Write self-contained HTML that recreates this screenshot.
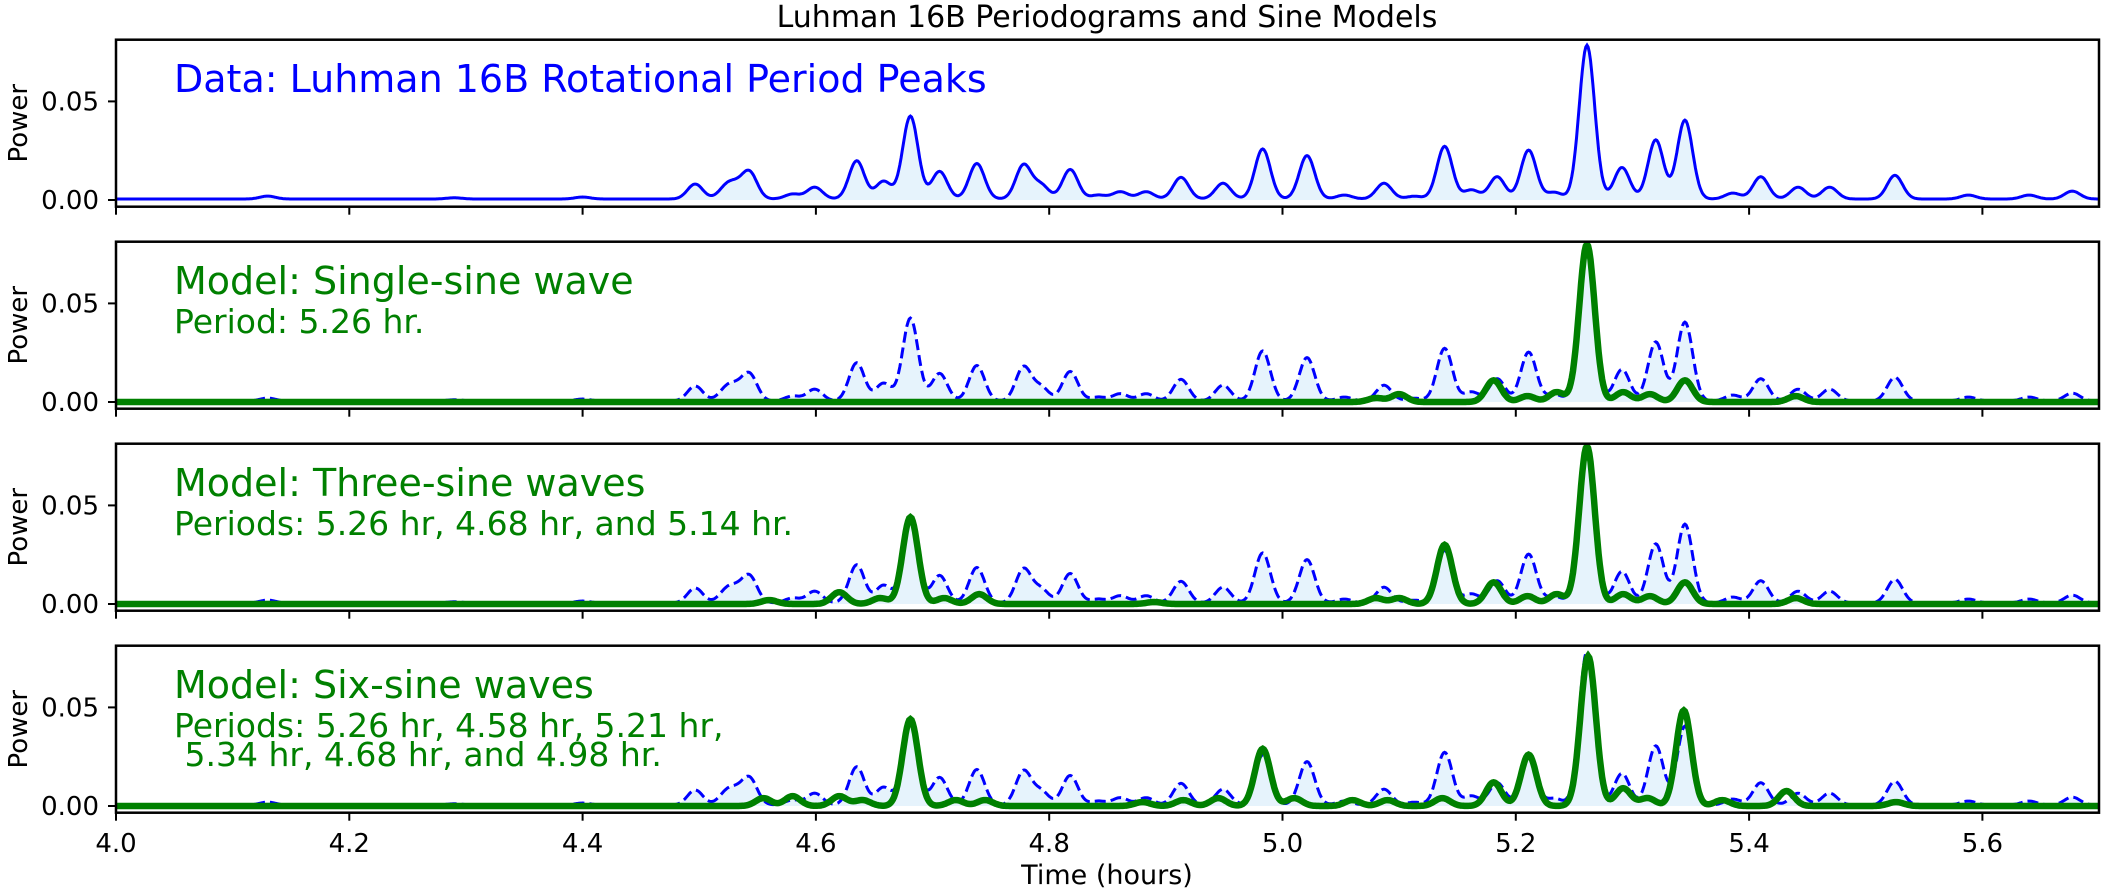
<!DOCTYPE html>
<html><head><meta charset="utf-8"><style>
html,body{margin:0;padding:0;background:#fff}
svg{display:block}
text{font-family:"DejaVu Sans","Liberation Sans",sans-serif}
</style></head><body>
<svg id="s" width="2101" height="892" xmlns="http://www.w3.org/2000/svg">
<defs>
<clipPath id="c0"><rect x="116" y="39.7" width="1983" height="167"/></clipPath>
<clipPath id="c1"><rect x="116" y="241.7" width="1983" height="167"/></clipPath>
<clipPath id="c2"><rect x="116" y="443.7" width="1983" height="167"/></clipPath>
<clipPath id="c3"><rect x="116" y="645.7" width="1983" height="167"/></clipPath>
</defs>
<text x="1107" y="27" font-size="30" text-anchor="middle">Luhman 16B Periodograms and Sine Models</text>
<g id="plots"></g>
<text x="174" y="92" font-size="38" fill="#0000ff">Data: Luhman 16B Rotational Period Peaks</text>
<text x="174" y="294" font-size="38" fill="#008000">Model: Single-sine wave</text>
<text x="174" y="333" font-size="33" fill="#008000">Period: 5.26 hr.</text>
<text x="174" y="496" font-size="38" fill="#008000">Model: Three-sine waves</text>
<text x="174" y="535" font-size="33" fill="#008000">Periods: 5.26 hr, 4.68 hr, and 5.14 hr.</text>
<text x="174" y="698" font-size="38" fill="#008000">Model: Six-sine waves</text>
<text x="174" y="737" font-size="33" fill="#008000">Periods: 5.26 hr, 4.58 hr, 5.21 hr,</text>
<text x="174" y="766" font-size="33" fill="#008000" xml:space="preserve"> 5.34 hr, 4.68 hr, and 4.98 hr.</text>
<text x="1107" y="884" font-size="27" text-anchor="middle">Time (hours)</text>
</svg>
<script>
var data=[[4.13,.0015],[4.29,.0006],[4.40,.001],[4.4965,.0076],[4.523,.0055],[4.531,.005],[4.543,.0135],[4.58,.0025],[4.599,.006],[4.635,.0194],[4.658,.009],[4.681,.042],[4.706,.014],[4.738,.018],[4.778,.0172],[4.793,.007],[4.818,.015],[4.842,.002],[4.861,.0037],[4.883,.0037],[4.913,.011],[4.949,.008],[4.983,.0254],[5.021,.022],[5.053,.002],[5.087,.008],[5.113,.0014],[5.139,.0267],[5.162,.0046],[5.184,.0113],[5.211,.0248],[5.233,.0034],[5.261,.078],[5.291,.016],[5.320,.030],[5.345,.040],[5.386,.003],[5.41,.0113],[5.442,.006],[5.469,.006],[5.525,.012],[5.588,.002],[5.64,.002],[5.677,.004]];
var m1=[[5.08,.002],[5.10,.004],[5.181,.011],[5.21,.003],[5.235,.005],[5.261,.080],[5.292,.005],[5.315,.004],[5.345,.011],[5.44,.003]];
var m3=[[4.56,.002],[4.62,.006],[4.655,.003],[4.681,.044],[4.71,.003],[4.74,.005],[4.89,.001],[5.08,.003],[5.10,.003],[5.139,.030],[5.181,.011],[5.21,.004],[5.235,.005],[5.261,.080],[5.292,.005],[5.315,.004],[5.345,.011],[5.44,.003]];
var m6=[[4.555,.004],[4.58,.005],[4.62,.005],[4.64,.003],[4.681,.044],[4.72,.003],[4.745,.003],[4.88,.002],[4.915,.003],[4.945,.004],[4.983,.029],[5.01,.004],[5.06,.003],[5.09,.003],[5.137,.004],[5.181,.012],[5.211,.026],[5.262,.076],[5.292,.009],[5.313,.004],[5.344,.0485],[5.377,.003],[5.432,.0076],[5.526,.002]];
function f(pk,h,base){var v=base;for(var i=0;i<pk.length;i++){var d=(h-pk[i][0])/0.0066;v+=pk[i][1]*Math.exp(-0.5*d*d);}return v;}
function X(h){return 116+(h-4)*1166.5;}
var tops=[39.7,241.7,443.7,645.7];
function path(pk,top,base){var s="";for(var h=3.995;h<=5.705;h+=0.001){var x=X(h),y=top+160.3-f(pk,h,base)*1972;s+=(s?"L":"M")+x.toFixed(1)+" "+y.toFixed(1);}return s;}
var g="";
var models=[null,m1,m3,m6];
for(var p=0;p<4;p++){var t=tops[p];var dp=path(data,t,0.0005);var z=(t+160.3).toFixed(1);
g+='<g clip-path="url(#c'+p+')">';
g+='<path d="'+dp+'L'+X(5.705)+' '+z+'L'+X(3.995)+' '+z+'Z" fill="#e6f3fc" stroke="none"/>';
if(p==0)g+='<path d="'+dp+'" fill="none" stroke="#0000ff" stroke-width="3"/>';
else{g+='<path d="'+dp+'" fill="none" stroke="#0000ff" stroke-width="3" stroke-dasharray="11,5"/>';
g+='<path d="'+path(models[p],t,0)+'" fill="none" stroke="#008000" stroke-width="6.5"/>';}
g+='</g>';
g+='<rect x="116" y="'+t+'" width="1983" height="167" fill="none" stroke="#000" stroke-width="2.5"/>';
[[0,"0.00"],[0.05,"0.05"]].forEach(function(q){var y=t+160.3-q[0]*1972;g+='<line x1="108" x2="116" y1="'+y+'" y2="'+y+'" stroke="#000" stroke-width="2"/><text x="99" y="'+(y+9)+'" font-size="26" text-anchor="end">'+q[1]+'</text>';});
g+='<text transform="translate(27,'+(t+83.5)+') rotate(-90)" font-size="26" text-anchor="middle">Power</text>';
for(var k=0;k<9;k++){var x=116+k*233.3;g+='<line x1="'+x+'" x2="'+x+'" y1="'+(t+167)+'" y2="'+(t+175)+'" stroke="#000" stroke-width="2"/>';
if(p==3)g+='<text x="'+x+'" y="852" font-size="26" text-anchor="middle">'+(4+k*0.2).toFixed(1)+'</text>';}
}
document.getElementById("plots").innerHTML=g;
</script>
</body></html>
